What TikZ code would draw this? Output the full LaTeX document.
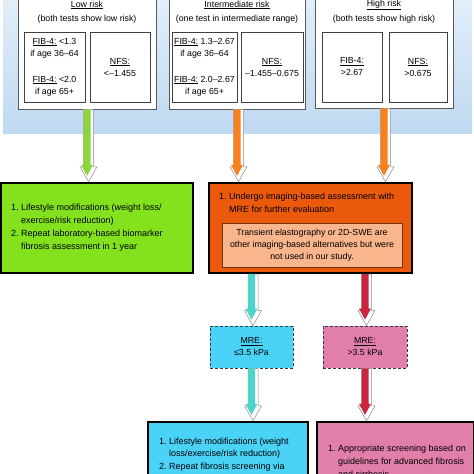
\documentclass[tikz,border=0pt]{standalone}
\usepackage{fontspec}
\setmainfont{Liberation Sans}
\usepackage{xcolor}
\usetikzlibrary{positioning,calc}
\definecolor{paneltop}{HTML}{E6F1FB}
\definecolor{panelbot}{HTML}{BFD9F1}
\definecolor{limegreen}{HTML}{84E11D}
\definecolor{greenarr}{HTML}{8CD63C}
\definecolor{orangebox}{HTML}{EB5A0C}
\definecolor{orangearr}{HTML}{F7811F}
\definecolor{noteorange}{HTML}{F9B58B}
\definecolor{notebrown}{HTML}{6E3410}
\definecolor{skyblue}{HTML}{4BD3F7}
\definecolor{tealarr}{HTML}{4DD4CB}
\definecolor{rosepink}{HTML}{E17FAA}
\definecolor{redarr}{HTML}{C9253F}
\definecolor{dashgray}{HTML}{2A3B4F}

\newcommand\itemno[1]{\makebox[10pt][l]{#1}}
\newcommand\itemcont{\hspace*{10pt}}
% block arrow with a white, grey-edged shadow
\newcommand\flowarrow[3]{%
  \filldraw[fill=white, draw=black!45, line width=0.5pt] let \p1=(#2), \p2=(#3) in
    (\x1-3.5pt,\y1) -- (\x1+6.5pt,\y1) -- (\x1+6.5pt,\y2+15pt) -- (\x1+10pt,\y2+15pt)
    -- (\x1+1.5pt,\y2) -- (\x1-7pt,\y2+15pt) -- (\x1-3.5pt,\y2+15pt) -- cycle;
  \fill[#1] let \p1=(#2), \p2=(#3) in
    (\x1-3.5pt,\y1) -- (\x1+3.5pt,\y1) -- (\x1+3.5pt,\y2+17pt) -- (\x1+6pt,\y2+17pt)
    -- (\x1,\y2+6pt) -- (\x1-6pt,\y2+17pt) -- (\x1-3.5pt,\y2+17pt) -- cycle;
}

\begin{document}
\begin{tikzpicture}[x=1pt,y=-1pt,
    font=\fontsize{8.8}{12}\selectfont,
    riskbox/.style={draw=black!65, line width=0.7pt, fill=white, inner sep=0pt},
    testbox/.style={draw=black!75, line width=0.8pt, fill=white, align=center, inner sep=0pt},
    stepbox/.style={draw=black, line width=2.4pt, inner sep=0pt},
    mrebox/.style={draw=dashgray, dash pattern=on 3pt off 2pt, line width=0.8pt, align=center, inner sep=0pt},
    listtext/.style={align=left, anchor=west, inner sep=0pt, font=\fontsize{9}{12.8}\selectfont}]
  \useasboundingbox (0,0) rectangle (474,474);
  \clip (0,0) rectangle (474,474);

  % risk categories
  \node[top color=paneltop, bottom color=panelbot, minimum width=469pt, minimum height=153pt, inner sep=0pt] (panel) at (237.5,56.5) {};
  \node[riskbox, minimum width=138pt, minimum height=119pt] (low) at (87,49.5) {};
  \node[riskbox, minimum width=136pt, minimum height=119pt] (mid) at (237,49.5) {};
  \node[riskbox, minimum width=138pt, minimum height=118pt] (high) at (384,49) {};
  \node (lowtitle) at (87,5) {\underline{Low risk}};
  \node (lowsub) at (87,19) {(both tests show low risk)};
  \node (midtitle) at (237,5) {\underline{Intermediate risk}};
  \node (midsub) at (237,19) {(one test in intermediate range)};
  \node (hightitle) at (384,5) {\underline{High risk}};
  \node (highsub) at (384,19) {(both tests show high risk)};

  \node[testbox, minimum width=61pt, minimum height=70pt] (lowfib) at (54.5,67)
    {\underline{FIB-4:} <1.3\\if age 36–64\\[14pt]\underline{FIB-4:} <2.0\\if age 65+};
  \node[testbox, minimum width=60pt, minimum height=70pt] (lownfs) at (120,67) {\underline{NFS:}\\<–1.455};
  \node[testbox, minimum width=65pt, minimum height=70pt] (midfib) at (204.5,67)
    {\underline{FIB-4:} 1.3–2.67\\if age 36–64\\[14pt]\underline{FIB-4:} 2.0–2.67\\if age 65+};
  \node[testbox, minimum width=62pt, minimum height=70pt] (midnfs) at (272,67) {\underline{NFS:}\\–1.455–0.675};
  \node[testbox, minimum width=60pt, minimum height=70pt] (highfib) at (352,67) {\underline{FIB-4:}\\>2.67};
  \node[testbox, minimum width=58pt, minimum height=70pt] (highnfs) at (418,67) {\underline{NFS:}\\>0.675};

  % first recommendations
  \node[stepbox, fill=limegreen, minimum width=192pt, minimum height=90pt] (green) at (97,228) {};
  \node[listtext] (greentext) at (11,227.5) {\itemno{1.}Lifestyle modifications (weight loss/\\\itemcont exercise/risk reduction)\\\itemno{2.}Repeat laboratory-based biomarker\\\itemcont fibrosis assessment in 1 year};
  \node[stepbox, fill=orangebox, minimum width=203pt, minimum height=90pt] (orange) at (310.5,228) {};
  \node[listtext] (orangetext) at (219,203) {\itemno{1.}Undergo imaging-based assessment with\\\itemcont MRE for further evaluation};
  \node[draw=notebrown, line width=0.6pt, fill=noteorange, minimum width=180pt, minimum height=44pt, align=center, inner sep=0pt] (note) at (312,245)
    {Transient elastography or 2D-SWE are\\other imaging-based alternatives but were\\not used in our study.};

  % MRE result
  \node[mrebox, fill=skyblue, minimum width=83pt, minimum height=42pt] (mrelo) at (251.5,347) {\underline{MRE:}\\≤3.5 kPa};
  \node[mrebox, fill=rosepink, minimum width=84pt, minimum height=42pt] (mrehi) at (365,347) {\underline{MRE:}\\>3.5 kPa};

  % follow-up
  \node[stepbox, fill=skyblue, minimum width=160pt, minimum height=68pt] (planlo) at (228,456) {};
  \node[listtext] (planlotext) at (159,454.5) {\itemno{1.}Lifestyle modifications (weight\\\itemcont loss/exercise/risk reduction)\\\itemno{2.}Repeat fibrosis screening via};
  \node[stepbox, fill=rosepink, minimum width=157pt, minimum height=68pt] (planhi) at (395.5,456) {};
  \node[listtext] (planhitext) at (328,461) {\itemno{1.}Appropriate screening based on\\\itemcont guidelines for advanced fibrosis\\\itemcont and cirrhosis};

  \flowarrow{greenarr}{low.south}{green.north}
  \flowarrow{orangearr}{mid.south}{orange.north}
  \flowarrow{orangearr}{high.south}{orange.north}
  \flowarrow{tealarr}{orange.south -| mrelo.north}{mrelo.north}
  \flowarrow{redarr}{orange.south -| mrehi.north}{mrehi.north}
  \flowarrow{tealarr}{mrelo.south}{planlo.north}
  \flowarrow{redarr}{mrehi.south}{planhi.north}
\end{tikzpicture}
\end{document}
